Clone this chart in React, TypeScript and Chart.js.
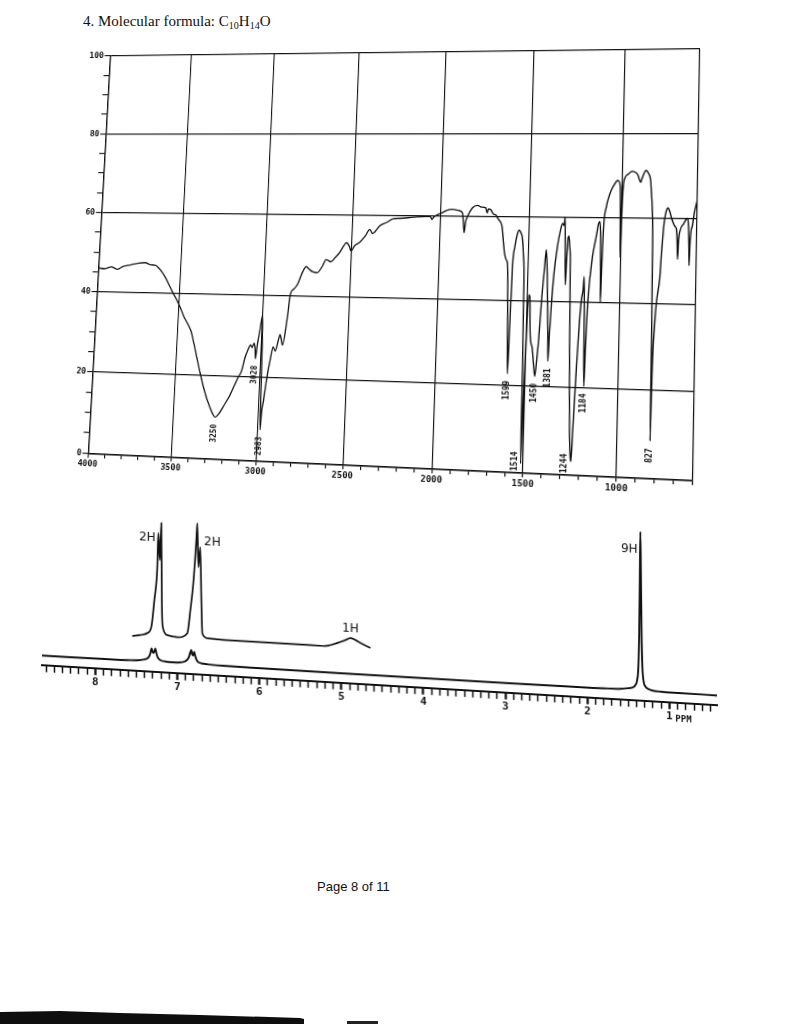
import React, { useEffect, useRef } from "react";
import { Chart, registerables } from "chart.js";

Chart.register(...registerables);

// ---------------- IR spectrum data (wavenumber cm-1, %T) ----------------
const IR_WAVENUMBER = [
  4000, 3960, 3920, 3880, 3850, 3800, 3760, 3713, 3680, 3650, 3630, 3605, 3583, 3546, 3500, 3460, 3417, 3385, 3352, 3320,
  3290, 3265, 3250, 3230, 3196, 3170, 3145, 3125, 3106, 3091, 3075, 3060, 3050, 3040, 3033, 3028, 3022, 3012, 3004, 2998,
  2992, 2987, 2983, 2978, 2970, 2958, 2943, 2928, 2915, 2900, 2890, 2874, 2860, 2850, 2840, 2821, 2800, 2774, 2755, 2735,
  2717, 2690, 2660, 2642, 2613, 2590, 2566, 2540, 2528, 2510, 2500, 2480, 2453, 2420, 2396, 2380, 2368, 2340, 2300, 2264,
  2226, 2150, 2080, 2055, 2045, 2035, 1986, 1960, 1930, 1895, 1875, 1868, 1862, 1856, 1847, 1820, 1791, 1770, 1745, 1740,
  1736, 1731, 1717, 1703, 1690, 1671, 1660, 1652, 1642, 1634, 1622, 1616, 1610, 1605, 1599, 1594, 1588, 1578, 1565, 1556,
  1545, 1538, 1530, 1523, 1518, 1514, 1508, 1501, 1494, 1488, 1482, 1477, 1468, 1458, 1450, 1442, 1434, 1424, 1412, 1405,
  1397, 1392, 1388, 1384, 1381, 1376, 1370, 1361, 1345, 1330, 1320, 1311, 1307, 1302, 1297, 1293, 1288, 1283, 1278, 1273,
  1268, 1262, 1255, 1248, 1244, 1238, 1230, 1225, 1215, 1208, 1200, 1196, 1192, 1188, 1184, 1180, 1175, 1168, 1160, 1153,
  1140, 1134, 1125, 1118, 1112, 1108, 1106, 1103, 1097, 1085, 1075, 1060, 1042, 1028, 1020, 1012, 1008, 1005, 1002, 996,
  990, 968, 950, 935, 920, 910, 903, 895, 876, 862, 850, 845, 839, 833, 829, 827, 823, 815, 808, 800,
  792, 785, 774, 765, 755, 745, 735, 727, 715, 709, 704, 700, 696, 690, 670, 653, 645, 641, 639, 636,
  630, 626, 615, 605, 600,
];
const IR_TRANSMITTANCE = [
  46, 45.8, 46.3, 45.7, 46.4, 46.9, 47.3, 47.5, 47, 46.9, 46.2, 45, 43.6, 40.8, 37.5, 34, 30.8, 26, 20.8, 16.3,
  13, 10.8, 10, 10.8, 13.3, 15.3, 17.8, 19.8, 21.5, 24.5, 26.5, 27.8, 27.2, 28.3, 27, 24.5, 27.5, 30.5, 33.5, 35,
  28, 16, 7.4, 12, 14.5, 19.5, 24, 27.5, 26.5, 29, 30.5, 28, 31.5, 36, 40.5, 41.7, 43, 46, 47.2, 46.5,
  46, 45.8, 47.5, 49, 48.5, 49.5, 50.7, 52.6, 53.2, 52.3, 51.2, 52.5, 53.3, 55, 56.5, 55.5, 55.9, 57.4, 58.3, 59.2,
  59.3, 59.6, 59.8, 59.8, 59.1, 59.7, 60.8, 61.4, 61.6, 61.3, 60.8, 58.5, 56, 58.5, 59.8, 62, 62.6, 62.2, 62, 61.2,
  60.8, 61.8, 61.6, 60.6, 60.4, 59.2, 58.6, 57.6, 54, 51.2, 49.5, 48.8, 42, 32, 22.8, 34, 48, 52.8, 56, 56.8,
  56, 55, 51, 45, 25, 2, 18, 34, 41.5, 41, 33, 30.5, 29, 25, 22.4, 26, 31, 40, 48, 52.2,
  47, 41, 36, 31, 26, 33, 39, 46, 53, 57, 58.5, 58, 60, 52, 44, 50, 55.2, 55.5, 53, 50,
  36, 22, 10, 4, 3, 10, 20, 26, 36, 40.5, 43, 46, 40, 28, 20.4, 30, 38, 44, 48, 51,
  54.5, 56, 58.5, 59, 55, 45, 40, 48, 58, 62.5, 64.5, 66.5, 68, 68.8, 68.6, 67, 58, 50.6, 60, 67.5,
  69.2, 70.4, 71, 70.8, 70.2, 69, 68.4, 69.5, 71.2, 70.5, 68.8, 66, 62.4, 53.6, 30, 8.4, 25, 35, 40, 43,
  46, 52, 59, 61.5, 62.4, 61.5, 60, 59, 58, 57.6, 55, 50.4, 55, 57, 58.8, 60, 58, 53, 49, 54,
  57.5, 58, 61.5, 63.5, 64.3,
];
const IR_X_TICK_LABELS = ["4000", "3500", "3000", "2500", "2000", "1500", "1000"];
const IR_Y_TICK_LABELS = ["0", "20", "40", "60", "80", "100"];
const IR_PEAK_LABELS = ["3250", "3028", "2983", "1599", "1514", "1450", "1381", "1244", "1184", "827"];
const IR_PEAK_WAVENUMBER = [3250, 3028, 2983, 1599, 1514, 1450, 1381, 1244, 1184, 827];
const IR_PEAK_TRANSMITTANCE = [10, 24.5, 7.4, 22.8, 2, 22.4, 26, 3, 20.4, 8.4];

// ---------------- 1H NMR data (ppm, intensity) ----------------
const NMR_MAIN_PPM = [
  8.65, 8.3, 7.9, 7.6, 7.48, 7.42, 7.37, 7.34, 7.325, 7.315, 7.305, 7.293, 7.28, 7.268, 7.255, 7.24, 7.21, 7.17, 7.1, 7.0,
  6.95, 6.9, 6.865, 6.845, 6.83, 6.818, 6.808, 6.795, 6.78, 6.76, 6.73, 6.69, 6.6, 6.4, 6.0, 5.0, 4.0, 3.0, 2.2, 1.8,
  1.6, 1.5, 1.45, 1.42, 1.395, 1.378, 1.368, 1.36, 1.354, 1.348, 1.34, 1.33, 1.315, 1.29, 1.26, 1.21, 1.1, 0.9, 0.42,
];
const NMR_MAIN_INTENSITY = [
  0, 0, 0.2, 0.5, 1.0, 1.8, 3.2, 6, 10, 13.7, 11, 9.1, 11, 13.7, 9, 5, 2.5, 1.5, 1.0, 1.0,
  1.5, 3, 6, 11, 14.3, 10, 9, 12.7, 8, 4, 2.2, 1.4, 0.8, 0.4, 0.2, 0, 0, 0, 0.2, 0.5,
  1, 2, 3, 5, 10, 25, 60, 120, 159, 120, 60, 25, 10, 4.5, 2.5, 1.2, 0.5, 0.2, 0,
];
const NMR_EXPANDED_PPM = [
  7.549, 7.451, 7.366, 7.317, 7.28, 7.244, 7.232, 7.213, 7.195, 7.189, 7.177, 7.122, 7.0, 6.878, 6.841, 6.805, 6.768,
  6.756, 6.744, 6.72, 6.707, 6.695, 6.634, 6.354, 5.951, 5.537, 5.22, 5.049, 4.951, 4.89, 4.829, 4.768, 4.646,
];
const NMR_EXPANDED_INTENSITY = [
  24.8, 26.3, 28.7, 35, 62, 95.3, 129.4, 102.4, 139.5, 62.5, 35.5, 27.8, 26.4, 31, 54.2, 81.4, 124.5,
  141.6, 97.6, 117.7, 64.7, 31.7, 27, 26.3, 26.3, 26.3, 26.2, 30, 33.4, 35.8, 34, 31.4, 27,
];
const NMR_PPM_TICK_LABELS = ["8", "7", "6", "5", "4", "3", "2", "1"];
const NMR_INTEGRAL_LABELS = ["2H", "2H", "1H", "9H"];
const NMR_INTEGRAL_PPM = [7.366, 6.573, 4.89, 1.488];
const NMR_INTEGRAL_HEIGHT = [123.7, 123.6, 44.8, 141.3];

// ---------------- layout (page corners of each plot area, scan distortion) ----------------
const INK = "#111111";
const CLEAR = "rgba(0,0,0,0)";
const IR_QUAD = [[110, 56], [700, 49], [88, 453], [693, 480]]; // TL, TR, BL, BR
const NMR_QUAD = [[42, 480], [717, 520], [42, 665], [717, 705]];

function homography(src: number[][], dst: number[][]): string {
  const A: number[][] = [];
  const b: number[] = [];
  for (let i = 0; i < 4; i++) {
    const [x, y] = src[i];
    const [u, v] = dst[i];
    A.push([x, y, 1, 0, 0, 0, -x * u, -y * u]);
    b.push(u);
    A.push([0, 0, 0, x, y, 1, -x * v, -y * v]);
    b.push(v);
  }
  const n = 8;
  for (let c = 0; c < n; c++) {
    let p = c;
    for (let r = c + 1; r < n; r++) if (Math.abs(A[r][c]) > Math.abs(A[p][c])) p = r;
    [A[c], A[p]] = [A[p], A[c]];
    [b[c], b[p]] = [b[p], b[c]];
    for (let r = 0; r < n; r++) {
      if (r === c) continue;
      const f = A[r][c] / A[c][c];
      for (let k = c; k < n; k++) A[r][k] -= f * A[c][k];
      b[r] -= f * b[c];
    }
  }
  const h = b.map((v, i) => v / A[i][i]);
  const [a, bb, c, d, e, f, g, hh] = h;
  return `matrix3d(${a},${d},0,${g},${bb},${e},0,${hh},0,0,1,0,${c},${f},0,1)`;
}

function fitToQuad(canvas: HTMLCanvasElement, chart: any, quad: number[][]) {
  const ca = chart.chartArea;
  const src = [
    [ca.left, ca.top],
    [ca.right, ca.top],
    [ca.left, ca.bottom],
    [ca.right, ca.bottom],
  ];
  canvas.style.transformOrigin = "0 0";
  canvas.style.transform = homography(src, quad);
}

const monoFont = (size: number) => ({ family: "DejaVu Sans Mono", size, weight: "bold" as const });

const irPeakLabelPlugin = {
  id: "irPeakLabels",
  afterDatasetsDraw(chart: any) {
    const { ctx, scales } = chart;
    const x = scales.x;
    const y = scales.y;
    const bottom = chart.chartArea.bottom;
    ctx.save();
    ctx.font = 'bold 8px "DejaVu Sans Mono"';
    ctx.fillStyle = INK;
    ctx.textAlign = "right";
    ctx.textBaseline = "middle";
    IR_PEAK_LABELS.forEach((label, i) => {
      let px = x.getPixelForValue(IR_PEAK_WAVENUMBER[i]);
      let py = y.getPixelForValue(IR_PEAK_TRANSMITTANCE[i]) + 7;
      const w = ctx.measureText(label).width;
      if (py + w > bottom - 1) {
        py = bottom - 1 - w;
        px -= 6;
      }
      ctx.save();
      ctx.translate(px, py);
      ctx.rotate(-Math.PI / 2);
      ctx.fillText(label, 0, 0);
      ctx.restore();
    });
    ctx.restore();
  },
};

const nmrLabelPlugin = {
  id: "nmrLabels",
  afterDraw(chart: any) {
    const { ctx, scales } = chart;
    const x = scales.x;
    const y = scales.y;
    ctx.save();
    ctx.fillStyle = INK;
    ctx.font = '12px "DejaVu Sans"';
    ctx.textAlign = "center";
    ctx.textBaseline = "middle";
    NMR_INTEGRAL_LABELS.forEach((t, i) => {
      ctx.fillText(t, x.getPixelForValue(NMR_INTEGRAL_PPM[i]), y.getPixelForValue(NMR_INTEGRAL_HEIGHT[i]));
    });
    ctx.font = 'bold 9px "DejaVu Sans Mono"';
    ctx.textAlign = "left";
    ctx.fillText("PPM", x.getPixelForValue(1) + 6, x.top + 7 + 2 + 8);
    ctx.restore();
  },
};

function IRChart() {
  const ref = useRef<HTMLCanvasElement | null>(null);
  useEffect(() => {
    const canvas = ref.current!;
    const points = IR_WAVENUMBER.map((w, i) => ({ x: w, y: IR_TRANSMITTANCE[i] }));
    const chart = new Chart(canvas, {
      type: "line",
      data: {
        datasets: [
          {
            data: points,
            borderColor: INK,
            borderWidth: 1.35,
            pointRadius: 0,
            fill: false,
            cubicInterpolationMode: "monotone",
          },
        ],
      },
      options: {
        responsive: false,
        animation: false,
        events: [],
        layout: { padding: { left: 8, right: 16, top: 10, bottom: 6 } },
        plugins: { legend: { display: false }, tooltip: { enabled: false }, title: { display: false } },
        scales: {
          x: {
            type: "linear",
            reverse: true,
            min: 600,
            max: 4000,
            border: { display: true, color: INK, width: 1.4 },
            grid: {
              color: (c: any) => (c.tick && (c.tick.value % 500 === 0 || c.tick.value === 600) ? INK : CLEAR),
              lineWidth: 1.15,
              drawTicks: true,
              tickLength: 5,
              tickColor: INK,
              tickWidth: 1.2,
            },
            ticks: {
              stepSize: 100,
              autoSkip: false,
              includeBounds: false,
              maxRotation: 0,
              minRotation: 0,
              padding: 1,
              color: INK,
              font: monoFont(9),
              callback: (v: any) => (IR_X_TICK_LABELS.includes(String(v)) ? String(v) : ""),
            },
          },
          y: {
            type: "linear",
            min: 0,
            max: 100,
            border: { display: true, color: INK, width: 1.4 },
            grid: {
              color: (c: any) => (c.tick && c.tick.value % 20 === 0 ? INK : CLEAR),
              lineWidth: 1.15,
              drawTicks: true,
              tickLength: 6,
              tickColor: INK,
              tickWidth: 1.2,
            },
            ticks: {
              stepSize: 5,
              autoSkip: false,
              includeBounds: false,
              padding: 1,
              color: INK,
              font: monoFont(9),
              callback: (v: any) => (IR_Y_TICK_LABELS.includes(String(v)) ? String(v) : ""),
            },
          },
        },
      },
      plugins: [irPeakLabelPlugin],
    } as any);
    fitToQuad(canvas, chart, IR_QUAD);
    return () => chart.destroy();
  }, []);
  return <canvas ref={ref} width={660} height={460} style={{ position: "absolute", left: 0, top: 0 }} />;
}

function NMRChart() {
  const ref = useRef<HTMLCanvasElement | null>(null);
  useEffect(() => {
    const canvas = ref.current!;
    const main = NMR_MAIN_PPM.map((p, i) => ({ x: p, y: NMR_MAIN_INTENSITY[i] }));
    const expanded = NMR_EXPANDED_PPM.map((p, i) => ({ x: p, y: NMR_EXPANDED_INTENSITY[i] }));
    const chart = new Chart(canvas, {
      type: "line",
      data: {
        datasets: [
          {
            data: main,
            borderColor: INK,
            borderWidth: 1.9,
            pointRadius: 0,
            fill: false,
            cubicInterpolationMode: "monotone",
          },
          {
            data: expanded,
            borderColor: INK,
            borderWidth: 1.7,
            pointRadius: 0,
            fill: false,
            cubicInterpolationMode: "monotone",
          },
        ],
      },
      options: {
        responsive: false,
        animation: false,
        events: [],
        layout: { padding: { left: 20, right: 34, top: 10, bottom: 6 } },
        plugins: { legend: { display: false }, tooltip: { enabled: false }, title: { display: false } },
        scales: {
          x: {
            type: "linear",
            reverse: true,
            min: 0.42,
            max: 8.65,
            border: { display: true, color: INK, width: 2 },
            grid: {
              drawOnChartArea: false,
              drawTicks: true,
              tickLength: 7,
              tickColor: INK,
              tickWidth: (c: any) => (c.tick && Math.abs(c.tick.value - Math.round(c.tick.value)) < 1e-6 ? 2.3 : 1.5),
            },
            ticks: {
              stepSize: 0.1,
              autoSkip: false,
              includeBounds: false,
              maxRotation: 0,
              minRotation: 0,
              padding: 1,
              color: INK,
              font: monoFont(11),
              callback: (v: any) => (NMR_PPM_TICK_LABELS.includes(String(v)) ? String(v) : ""),
            },
          },
          y: {
            type: "linear",
            display: false,
            min: -9.5,
            max: 175.5,
          },
        },
      },
      plugins: [nmrLabelPlugin],
    } as any);
    fitToQuad(canvas, chart, NMR_QUAD);
    return () => chart.destroy();
  }, []);
  return <canvas ref={ref} width={730} height={225} style={{ position: "absolute", left: 0, top: 0 }} />;
}

export default function App() {
  return (
    <div
      style={{
        position: "absolute",
        left: 0,
        top: 0,
        width: 791,
        height: 1024,
        background: "#ffffff",
        overflow: "hidden",
      }}
    >
      <div
        style={{
          position: "absolute",
          left: 83,
          top: 14,
          fontFamily: '"Liberation Serif", serif',
          fontSize: 15,
          lineHeight: "15px",
          color: "#111",
          whiteSpace: "nowrap",
        }}
      >
        4. Molecular formula: C
        <span style={{ fontSize: 10, position: "relative", top: 3 }}>10</span>H
        <span style={{ fontSize: 10, position: "relative", top: 3 }}>14</span>O
      </div>
      <IRChart />
      <NMRChart />
      <div
        style={{
          position: "absolute",
          left: 317,
          top: 880,
          fontFamily: '"Liberation Sans", Arial, sans-serif',
          fontSize: 13,
          lineHeight: "14px",
          color: "#111",
          whiteSpace: "nowrap",
        }}
      >
        Page 8 of 11
      </div>
      <div
        style={{
          position: "absolute",
          left: 0,
          top: 1008,
          width: 304,
          height: 16,
          background: "#0e0e0e",
          clipPath: "polygon(0 4px, 60px 3px, 120px 5px, 200px 7px, 300px 10px, 304px 11px, 304px 16px, 0 16px)",
        }}
      />
      <div
        style={{
          position: "absolute",
          left: 347,
          top: 1021,
          width: 31,
          height: 3,
          background: "#222",
        }}
      />
    </div>
  );
}
